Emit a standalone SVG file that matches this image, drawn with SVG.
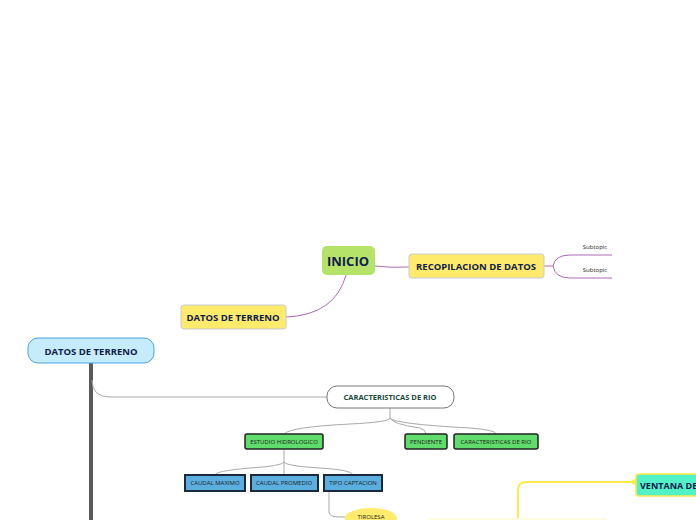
<svg xmlns="http://www.w3.org/2000/svg" width="696" height="520" viewBox="0 0 696 520">
<style>
text{font-family:"Open Sans","Noto Sans",sans-serif;text-anchor:middle;dominant-baseline:central}
.t{font-weight:bold;fill:#10204a}
.g{fill:#5fdc6b;stroke:#222;stroke-width:1.5}
.b{fill:#5aaee0;stroke:#1a2a3a;stroke-width:2}
.s{font-size:6px;fill:#222}
.c{fill:none;stroke:#aaa;stroke-width:1}
</style>
<rect width="696" height="520" fill="#fff"/>
<g id="connectors">
<path d="M375 266 Q390 268 409 267" fill="none" stroke="#b06ab6"/>
<path d="M346 275 Q335 315 286 317" fill="none" stroke="#b06ab6"/>
<path d="M544 266 L553 266 Q555 255 570 255 L612 255 M553 266 Q555 278 570 278 L612 278" fill="none" stroke="#b06ab6"/>
<path d="M91 363 V520" stroke="#5a5a5a" stroke-width="4"/>
<path d="M92 380 Q92 397 110 397 L327 397" class="c" stroke="#999"/>
<path d="M390 408 V418 Q390 422 350 424 Q290 427 284 434 M390 418 Q392 424 420 428 Q426 430 426 434 M390 418 Q394 424 470 428 Q496 430 496 434" class="c"/>
<path d="M284 449 V462 Q282 466 250 468 Q215 471 215 475 M284 462 V475 M284 462 Q286 466 320 468 Q352 470 353 475" class="c"/>
<path d="M329 491 V512 Q329 517 340 517 L346 517" class="c"/>
<path d="M518 520 V490 Q518 482 526 482 L636 482" fill="none" stroke="#ffe94a" stroke-width="2"/>
<path d="M630 482 l6 -4 v8z" fill="#ffe94a"/>
</g>
<g id="inicio"><rect x="322" y="246" width="53" height="29" rx="5" fill="#b5e36a"/><text x="348" y="261" class="t" font-size="13">INICIO</text></g>
<g id="recopilacion"><rect x="409" y="254" width="135" height="24" rx="3" fill="#ffeb6b" stroke="#c8c8d8"/><text x="476" y="266" class="t" font-size="9.5">RECOPILACION DE DATOS</text></g>
<g id="sub1"><text x="595" y="247" class="s">Subtopic</text></g>
<g id="sub2"><text x="595" y="270" class="s">Subtopic</text></g>
<g id="datos1"><rect x="181" y="305" width="105" height="24" rx="3" fill="#ffeb6b" stroke="#c8c8d8"/><text x="233" y="317" class="t" font-size="9.5">DATOS DE TERRENO</text></g>
<g id="datos2"><rect x="28" y="338" width="126" height="25" rx="10" fill="#c6ebfc" stroke="#4aa3e0"/><text x="91" y="351" class="t" font-size="9.5">DATOS DE TERRENO</text></g>
<g id="carrio"><rect x="327" y="386" width="127" height="22" rx="10" fill="#fff" stroke="#777"/><text x="390" y="397" font-size="7.5" font-weight="bold" fill="#1a4a3a">CARACTERISTICAS DE RIO</text></g>
<g id="estudio"><rect x="245" y="434" width="78" height="15" rx="2" class="g"/><text x="284" y="441.5" class="s">ESTUDIO HIDROLOGICO</text></g>
<g id="pendiente"><rect x="405" y="434" width="42" height="15" rx="2" class="g"/><text x="426" y="441.5" class="s">PENDIENTE</text></g>
<g id="carrio2"><rect x="454" y="434" width="84" height="15" rx="2" class="g"/><text x="496" y="441.5" class="s">CARACTERISTICAS  DE RIO</text></g>
<g id="caudalmax"><rect x="185" y="475" width="60" height="16" class="b"/><text x="215" y="483" class="s">CAUDAL MAXIMO</text></g>
<g id="caudalprom"><rect x="251" y="475" width="67" height="16" class="b"/><text x="284" y="483" class="s">CAUDAL PROMEDIO</text></g>
<g id="tipo"><rect x="324" y="475" width="58" height="16" class="b"/><text x="353" y="483" class="s">TIPO CAPTACION</text></g>
<g id="tirolesa"><ellipse cx="371" cy="518" rx="26" ry="10" fill="#ffeb6b"/><text x="371" y="517" class="s" font-size="5.5">TIROLESA</text></g>
<g id="ventana"><rect x="636" y="474" width="66" height="22" rx="3" fill="#52f2c8" stroke="#ffe94a" stroke-width="1.5"/><text x="640" y="485" class="t" font-size="9" text-anchor="start" style="text-anchor:start">VENTANA DE C</text></g>
<g id="pale"><rect x="428" y="518" width="178" height="10" fill="#fffbe0"/></g>
</svg>
